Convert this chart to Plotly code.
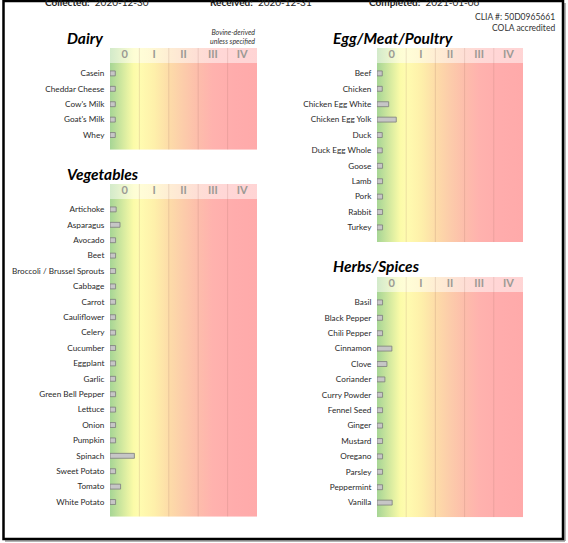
import plotly.graph_objects as go

W, H = 568, 543

# ---- data ----
class_labels = ["0", "I", "II", "III", "IV"]

dairy_foods = ["Casein", "Cheddar Cheese", "Cow's Milk", "Goat's Milk", "Whey"]
dairy_scores = [0.18, 0.18, 0.18, 0.18, 0.18]

egg_meat_foods = ["Beef", "Chicken", "Chicken Egg White", "Chicken Egg Yolk", "Duck",
                  "Duck Egg Whole", "Goose", "Lamb", "Pork", "Rabbit", "Turkey"]
egg_meat_scores = [0.18, 0.18, 0.40, 0.66, 0.18, 0.18, 0.19, 0.19, 0.19, 0.19, 0.19]

vegetable_foods = ["Artichoke", "Asparagus", "Avocado", "Beet", "Broccoli / Brussel Sprouts",
                   "Cabbage", "Carrot", "Cauliflower", "Celery", "Cucumber", "Eggplant",
                   "Garlic", "Green Bell Pepper", "Lettuce", "Onion", "Pumpkin", "Spinach",
                   "Sweet Potato", "Tomato", "White Potato"]
vegetable_scores = [0.21, 0.34, 0.19, 0.19, 0.19, 0.19, 0.19, 0.19, 0.19, 0.19, 0.19,
                    0.19, 0.19, 0.19, 0.19, 0.19, 0.83, 0.19, 0.36, 0.19]

herb_foods = ["Basil", "Black Pepper", "Chili Pepper", "Cinnamon", "Clove", "Coriander",
              "Curry Powder", "Fennel Seed", "Ginger", "Mustard", "Oregano", "Parsley",
              "Peppermint", "Vanilla"]
herb_scores = [0.19, 0.19, 0.19, 0.51, 0.34, 0.27, 0.19, 0.19, 0.19, 0.19, 0.19, 0.19,
               0.19, 0.52]

# ---- layout (pixels) ----
ROW_PX = 15.4
PAD_TOP, PAD_BOT, HDR = 0.68, 0.95, 0.97

panels = [
    dict(title="Dairy", foods=dairy_foods, scores=dairy_scores, x0=110, x1=257, top=48, ty=38),
    dict(title="Vegetables", foods=vegetable_foods, scores=vegetable_scores, x0=110, x1=257, top=184, ty=174),
    dict(title="Egg/Meat/Poultry", foods=egg_meat_foods, scores=egg_meat_scores, x0=377, x1=523, top=48, ty=38),
    dict(title="Herbs/Spices", foods=herb_foods, scores=herb_scores, x0=377, x1=523, top=277, ty=266),
]

BODY_SCALE = [
    [0.00, "#a6d595"],
    [0.16, "#fbfba8"],
    [0.20, "#fffcb0"],
    [0.30, "#fef0aa"],
    [0.40, "#fddca8"],
    [0.50, "#fcccaa"],
    [0.60, "#fdbdab"],
    [0.70, "#ffb2ae"],
    [0.85, "#ffacac"],
    [1.00, "#ffaaaa"],
]

FONT = "Lato"


def px_x(x):
    return x / W


def px_y(y):
    return 1 - y / H


fig = go.Figure()
layout_axes = {}
shapes = []
annotations = []

for i, p in enumerate(panels):
    n = len(p["foods"])
    # background on the base axes, bars on an overlay so they sit on top
    xa, ya = ("x", "y") if i == 0 else (f"x{i + 1}", f"y{i + 1}")
    xb, yb = f"x{i + 5}", f"y{i + 5}"
    y_top = -PAD_TOP - HDR
    y_bot = n - 1 + PAD_BOT
    bottom_px = p["top"] + (y_bot - y_top) * ROW_PX

    # gradient body
    fig.add_trace(go.Scatter(
        x=[0, 5, 5, 0], y=[-PAD_TOP, -PAD_TOP, y_bot, y_bot],
        fill="toself", mode="lines", line=dict(width=0),
        fillgradient=dict(type="horizontal", colorscale=BODY_SCALE),
        hoverinfo="skip", showlegend=False, xaxis=xa, yaxis=ya,
    ))
    # lighter header band
    fig.add_trace(go.Scatter(
        x=[0, 5, 5, 0], y=[y_top, y_top, -PAD_TOP, -PAD_TOP],
        fill="toself", mode="lines", line=dict(width=0),
        fillgradient=dict(type="horizontal", colorscale=BODY_SCALE),
        opacity=0.5, hoverinfo="skip", showlegend=False, xaxis=xa, yaxis=ya,
    ))
    # class headers
    fig.add_trace(go.Scatter(
        x=[k + 0.5 for k in range(len(class_labels))],
        y=[y_top + HDR / 2] * len(class_labels),
        text=class_labels, mode="text",
        textfont=dict(family=FONT, size=11, color="#9c9a94", weight="bold"),
        hoverinfo="skip", showlegend=False, xaxis=xa, yaxis=ya,
    ))
    # score bars
    fig.add_trace(go.Bar(
        x=p["scores"], y=list(range(n)), orientation="h", width=0.32,
        marker=dict(color="#c6c6c6", line=dict(color="#7c7c7c", width=0.8)),
        customdata=p["foods"], hovertemplate="%{customdata}: %{x}<extra></extra>",
        showlegend=False, xaxis=xb, yaxis=yb,
    ))

    for k in range(1, 5):
        shapes.append(dict(type="line", xref=xa, yref=ya, x0=k, x1=k, y0=y_top, y1=y_bot,
                           line=dict(color="rgba(150,100,90,0.18)", width=1)))

    key = "" if i == 0 else str(i + 1)
    layout_axes["xaxis" + key] = dict(
        domain=[px_x(p["x0"]), px_x(p["x1"])], range=[0, 5], anchor=ya,
        showgrid=False, zeroline=False, showticklabels=False, fixedrange=True,
    )
    layout_axes["yaxis" + key] = dict(
        domain=[px_y(bottom_px), px_y(p["top"])], range=[y_bot, y_top], anchor=xa,
        tickvals=list(range(n)), ticktext=p["foods"], showgrid=False, zeroline=False,
        ticks="outside", ticklen=3, tickcolor="rgba(0,0,0,0)",
        tickfont=dict(family=FONT, size=8.2, color="#2a2a2a"), fixedrange=True,
    )
    layout_axes[f"xaxis{i + 5}"] = dict(
        overlaying=xa, range=[0, 5], anchor=yb, visible=False, fixedrange=True,
    )
    layout_axes[f"yaxis{i + 5}"] = dict(
        overlaying=ya, range=[y_bot, y_top], anchor=xb, visible=False, fixedrange=True,
    )

    annotations.append(dict(
        text=f"<b><i>{p['title']}</i></b>", xref="paper", yref="paper",
        x=px_x(65 if p["x0"] < 300 else 331), y=px_y(p["ty"]),
        xanchor="left", yanchor="middle", showarrow=False,
        font=dict(family=FONT, size=15.5, color="#000000"),
    ))

annotations.append(dict(
    text="<i>Bovine-derived<br>unless specified</i>", xref="paper", yref="paper",
    x=px_x(257), y=px_y(47), xanchor="right", yanchor="bottom", align="right",
    showarrow=False, font=dict(family=FONT, size=7, color="#333333"),
))

for x, label, value in [(43, "Collected:", "2020-12-30"),
                        (208, "Received:", "2020-12-31"),
                        (367, "Completed:", "2021-01-06")]:
    annotations.append(dict(
        text=f"<b>{label}</b>  {value}", xref="paper", yref="paper",
        x=px_x(x), y=px_y(2), xanchor="left", yanchor="middle", showarrow=False,
        font=dict(family=FONT, size=10, color="#222222"),
    ))

annotations.append(dict(
    text="CLIA #: 50D0965661<br>COLA accredited", xref="paper", yref="paper",
    x=px_x(557), y=px_y(10), xanchor="right", yanchor="top", align="right",
    showarrow=False, font=dict(family=FONT, size=8.5, color="#333333"),
))

# page frame with a slight shadow
shapes.append(dict(type="line", xref="paper", yref="paper", x0=px_x(565), x1=px_x(565),
                   y0=px_y(541), y1=px_y(3), line=dict(color="#9a9a9a", width=1.5)))
shapes.append(dict(type="line", xref="paper", yref="paper", x0=px_x(5), x1=px_x(565),
                   y0=px_y(541), y1=px_y(541), line=dict(color="#9a9a9a", width=1.5)))
shapes.append(dict(type="rect", xref="paper", yref="paper", x0=px_x(3.5), x1=px_x(563),
                   y0=px_y(539), y1=px_y(1), line=dict(color="#000000", width=2.5)))

fig.update_layout(
    width=W, height=H, margin=dict(l=0, r=0, t=0, b=0),
    paper_bgcolor="white", plot_bgcolor="rgba(0,0,0,0)",
    showlegend=False, shapes=shapes, annotations=annotations,
    barmode="overlay", **layout_axes,
)

# drop the browser's default page margin so the figure fills the window
fig.write_html("out.html", config={"displayModeBar": False},
               post_script="document.body.style.margin = '0px';")
